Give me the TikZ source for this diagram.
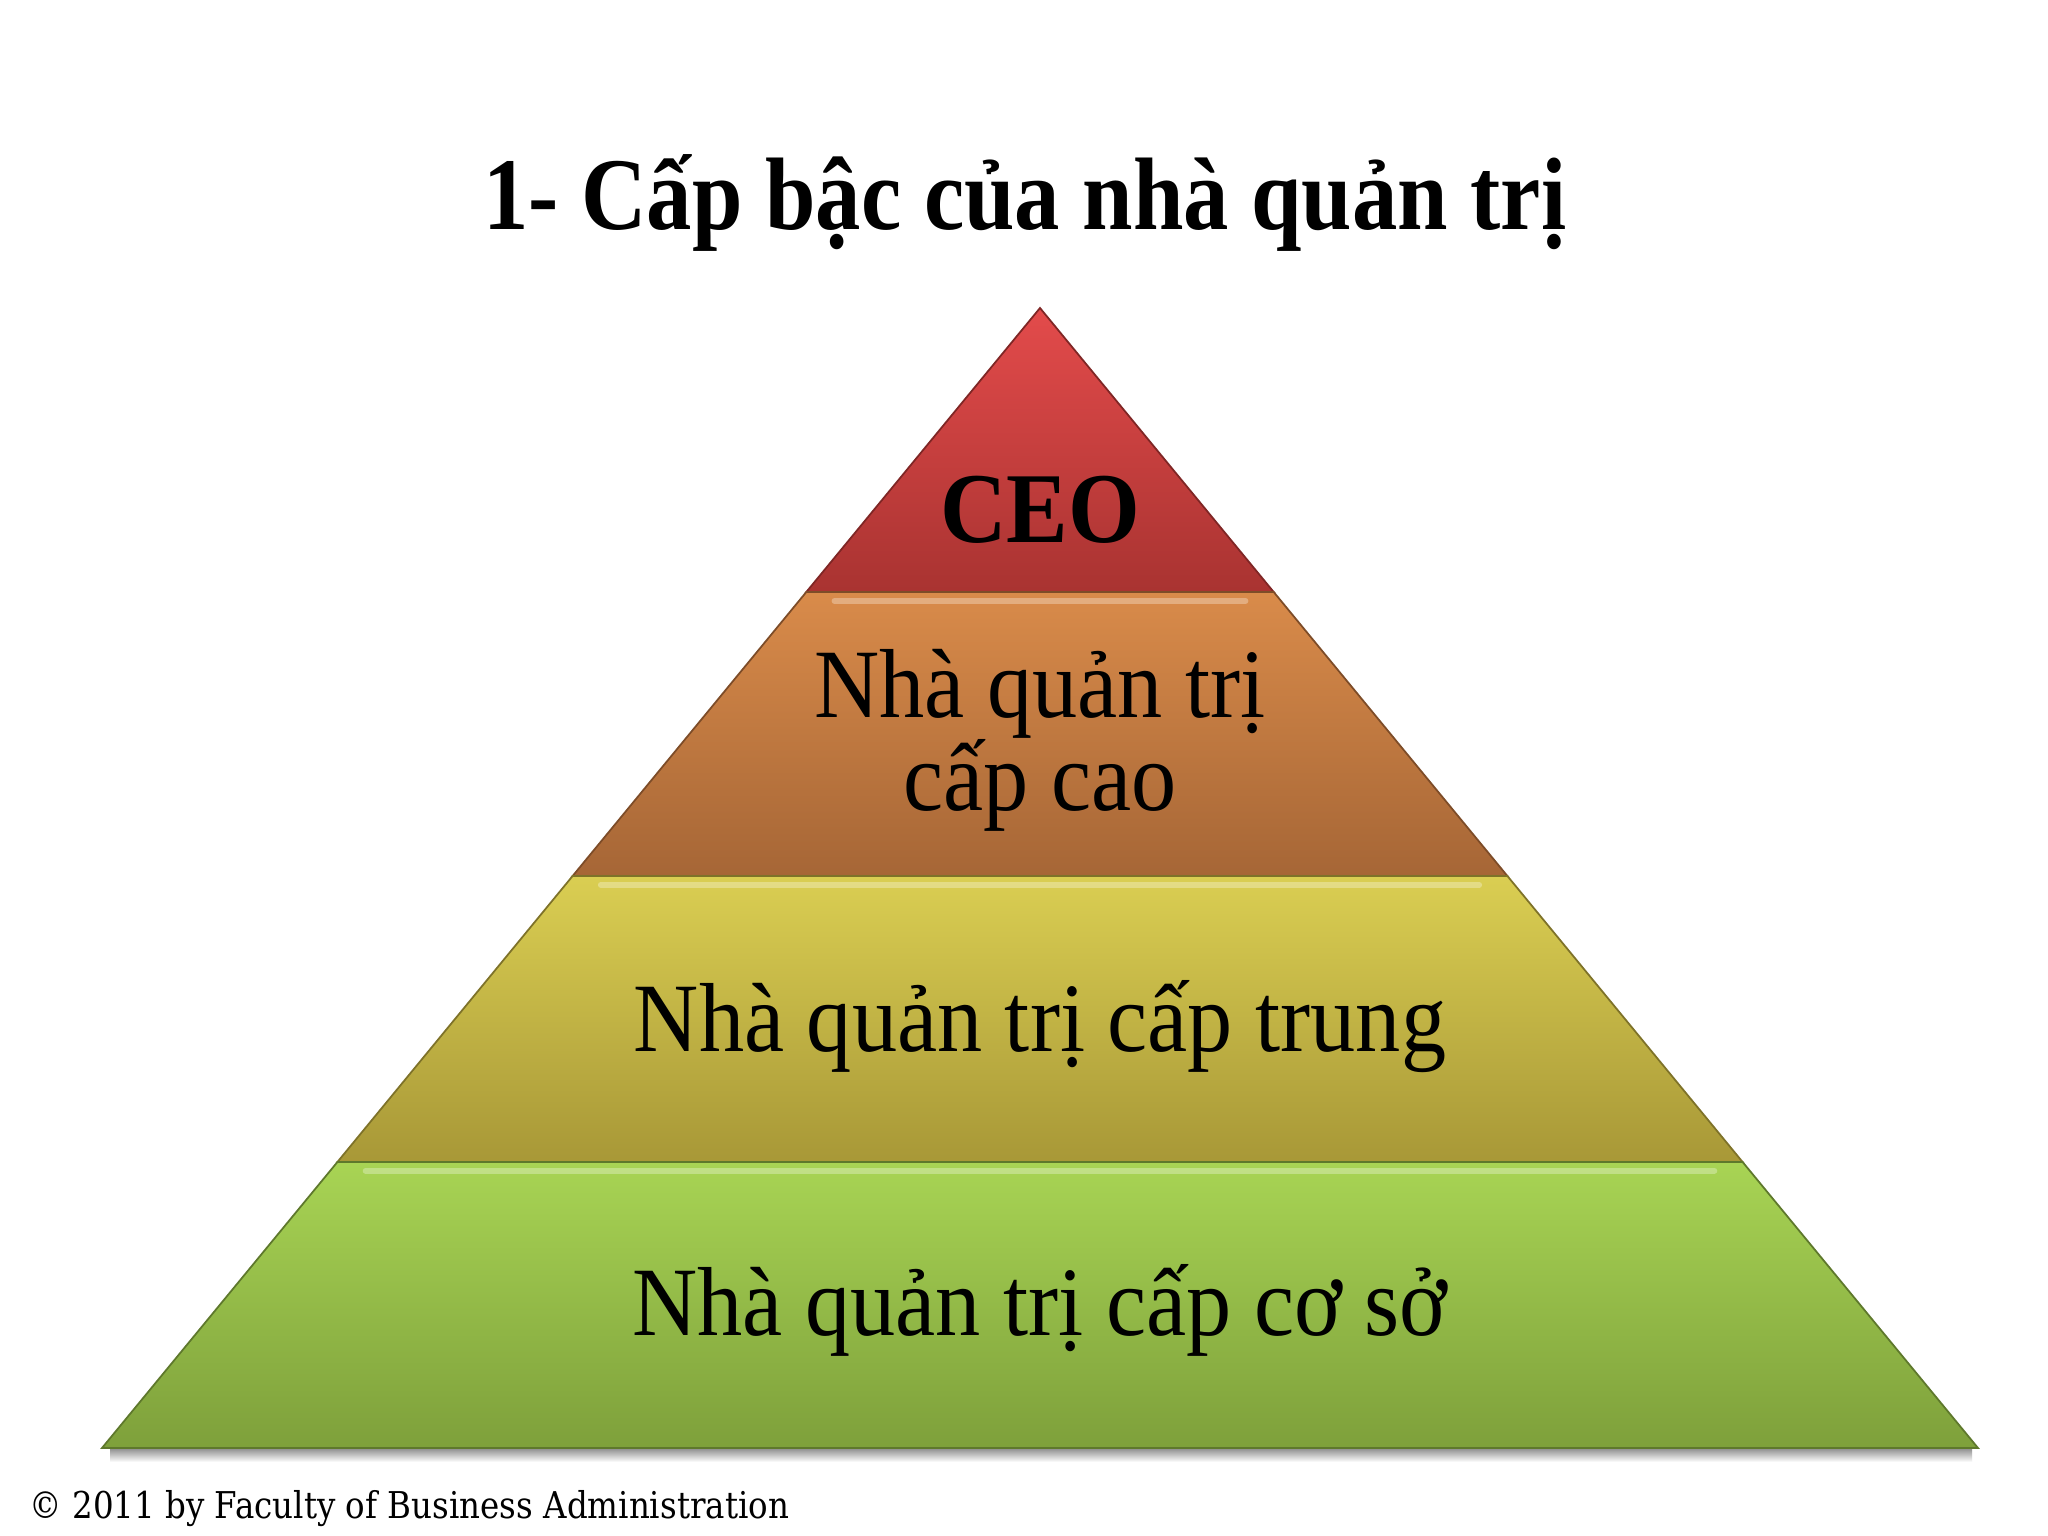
\documentclass[tikz,border=0pt]{standalone}
\usepackage{fontspec}
\setmainfont{Liberation Serif}
\newfontfamily\layerfont[FakeStretch=0.92]{Liberation Serif}
\newfontfamily\titlefont[FakeStretch=0.88]{Liberation Serif}
\newfontfamily\footfont[FakeStretch=0.88]{DejaVu Serif}
\usetikzlibrary{positioning}

\definecolor{ceotop}{HTML}{E34B4B}
\definecolor{ceobot}{HTML}{A93331}
\definecolor{caotop}{HTML}{D98B4A}
\definecolor{caobot}{HTML}{A66636}
\definecolor{trungtop}{HTML}{DACE52}
\definecolor{trungbot}{HTML}{A89837}
\definecolor{cosotop}{HTML}{A8D454}
\definecolor{cosobot}{HTML}{7EA03B}

\tikzset{
  layer/.style 2 args={top color=#1, bottom color=#2, draw=#2!75!black, line width=0.5pt},
  hilite/.style={draw=white, draw opacity=0.3, line width=1.6pt, line cap=round},
  lbl/.style={inner sep=0pt, anchor=base, text=black}
}

\begin{document}
\begin{tikzpicture}[x=0.01cm, y=-0.01cm]
  \useasboundingbox (0,0) rectangle (2048,1536);
  \fill[white] (0,0) rectangle (2048,1536);

  % corners of the pyramid
  \coordinate (apex) at (1040,308);
  \coordinate (l1) at (806.3,592);  \coordinate (r1) at (1273.7,592);
  \coordinate (l2) at (572.6,876);  \coordinate (r2) at (1507.4,876);
  \coordinate (l3) at (337.4,1162); \coordinate (r3) at (1742.6,1162);
  \coordinate (l4) at (102,1448);   \coordinate (r4) at (1978,1448);

  % shadow under the base
  \shade[top color=black!45, bottom color=white] (110,1448) rectangle (1972,1462);

  % layers
  \path[layer={ceotop}{ceobot}] (apex) -- (r1) -- (l1) -- cycle;
  \path[layer={caotop}{caobot}] (l1) -- (r1) -- (r2) -- (l2) -- cycle;
  \path[layer={trungtop}{trungbot}] (l2) -- (r2) -- (r3) -- (l3) -- cycle;
  \path[layer={cosotop}{cosobot}] (l3) -- (r3) -- (r4) -- (l4) -- cycle;

  % bevel highlights
  \draw[hilite] ([xshift=8pt,yshift=-2.5pt]l1) -- ([xshift=-8pt,yshift=-2.5pt]r1);
  \draw[hilite] ([xshift=8pt,yshift=-2.5pt]l2) -- ([xshift=-8pt,yshift=-2.5pt]r2);
  \draw[hilite] ([xshift=8pt,yshift=-2.5pt]l3) -- ([xshift=-8pt,yshift=-2.5pt]r3);

  % texts
  \node[lbl, font=\titlefont\bfseries\fontsize{29.3}{30}\selectfont] (title) at (1025,229) {1- Cấp bậc của nhà quản trị};
  \node[lbl, font=\layerfont\bfseries\fontsize{28.5}{30}\selectfont] (ceo) at (1040,542) {CEO};
  \node[lbl, anchor=center, align=center, font=\layerfont\fontsize{27.9}{26.5}\selectfont] (cao) at (1040,740) {Nhà quản trị\\cấp cao};
  \node[lbl, font=\layerfont\fontsize{27.9}{30}\selectfont] (trung) at (1040,1051) {Nhà quản trị cấp trung};
  \node[lbl, font=\layerfont\fontsize{27.9}{30}\selectfont] (coso) at (1040,1335) {Nhà quản trị cấp cơ sở};
  \node[lbl, anchor=base west, font=\footfont\fontsize{10.5}{12}\selectfont] (footer) at (29,1518) {© 2011 by Faculty of Business Administration};
\end{tikzpicture}
\end{document}
